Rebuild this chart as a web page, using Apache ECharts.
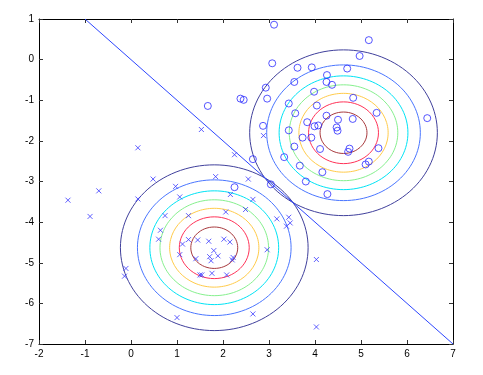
<!DOCTYPE html>
<html>
<head>
<meta charset="utf-8">
<script src="https://cdn.jsdelivr.net/npm/echarts@6/dist/echarts.min.js"></script>
<style>
html,body{margin:0;padding:0;background:#fff;}
#chart{width:483px;height:375px;}
</style>
</head>
<body>
<div id="chart"></div>
<script>
// ---- data ----
var xTicks = [-2, -1, 0, 1, 2, 3, 4, 5, 6, 7];
var yTicks = [-7, -6, -5, -4, -3, -2, -1, 0, 1];

// class "o"
var circleX = [3.11,5.17,4.97,3.07,3.62,3.93,4.70,4.26,3.55,4.25,4.37,2.93,3.98,4.83,2.96,2.38,2.45,3.43,4.04,1.67,5.34,3.57,4.25,6.44,4.82,4.50,3.83,2.87,3.99,4.07,4.47,3.43,4.49,3.73,3.92,3.55,4.75,5.38,4.11,4.72,3.33,2.65,5.17,5.10,3.67,4.16,3.80,3.04,2.25,4.27];
var circleY = [0.86,0.48,0.09,-0.09,-0.20,-0.19,-0.22,-0.38,-0.55,-0.55,-0.62,-0.69,-0.79,-0.94,-0.96,-0.96,-0.99,-1.08,-1.13,-1.14,-1.31,-1.32,-1.38,-1.44,-1.46,-1.48,-1.54,-1.63,-1.64,-1.62,-1.67,-1.74,-1.75,-1.92,-1.92,-2.14,-2.19,-2.18,-2.20,-2.27,-2.40,-2.45,-2.51,-2.58,-2.61,-2.77,-3.00,-3.07,-3.14,-3.31];

// class "x"
var crossX = [0.15,1.53,2.88,2.25,0.48,1.84,2.55,0.97,-0.70,2.16,1.06,0.15,2.65,-1.37,2.49,2.06,-0.89,0.74,1.25,3.17,3.43,3.46,3.38,0.64,0.60,1.25,1.12,1.45,1.69,2.02,2.15,1.80,1.71,1.89,1.74,1.41,1.06,2.22,2.20,2.96,4.03,-0.11,-0.14,1.50,1.54,1.76,2.08,1.00,2.65,4.03];
var crossY = [-2.17,-1.72,-1.87,-2.34,-2.94,-2.88,-2.94,-3.12,-3.23,-3.32,-3.38,-3.43,-3.44,-3.46,-3.69,-3.75,-3.86,-3.84,-3.84,-3.92,-3.88,-4.02,-4.10,-4.20,-4.42,-4.43,-4.54,-4.44,-4.47,-4.42,-4.49,-4.70,-4.85,-4.83,-4.95,-4.90,-4.80,-4.87,-4.93,-4.68,-4.92,-5.14,-5.33,-5.30,-5.30,-5.26,-5.30,-6.35,-6.26,-6.58];

// decision boundary
var boundaryX = [-1, 7];
var boundaryY = [1, -7];

// Gaussian contour centres and level radii (innermost first)
var centerX = [1.81, 4.62];
var centerY = [-4.63, -1.80];
var contourRadii = [0.51, 0.76, 0.97, 1.18, 1.40, 1.67, 2.04];
var contourColors = ['#a83a3e', '#ff3358', '#ffcb4a', '#86f08e', '#00e3f5', '#4a76ff', '#40409c'];

// ---- build options ----
function zip(a, b){ var r=[]; for (var i=0;i<a.length;i++) r.push([a[i], b[i]]); return r; }
function circlePts(cx, cy, r){
  var pts=[], n=120;
  for (var k=0;k<=n;k++){ var t=2*Math.PI*k/n; pts.push([cx + r*Math.cos(t), cy + r*Math.sin(t)]); }
  return pts;
}

var series = [];
for (var c=0;c<centerX.length;c++){
  for (var j=0;j<contourRadii.length;j++){
    series.push({
      type:'line', data: circlePts(centerX[c], centerY[c], contourRadii[j]),
      showSymbol:false, symbol:'none', smooth:false, silent:true, animation:false,
      lineStyle:{color: contourColors[j], width:1}, z:2
    });
  }
}
series.push({
  type:'line', data: zip(boundaryX, boundaryY), showSymbol:false, symbol:'none',
  lineStyle:{color:'#2d46ff', width:1}, animation:false, z:3
});
series.push({
  type:'scatter', data: zip(circleX, circleY), symbol:'circle', symbolSize:7,
  itemStyle:{color:'rgba(0,0,0,0)', borderColor:'#2a2aff', borderWidth:1}, animation:false, z:4
});
series.push({
  type:'scatter', data: zip(crossX, crossY), symbol:'path://M0,0L10,10M10,0L0,10', symbolSize:5,
  itemStyle:{color:'none', borderColor:'#3a3aff', borderWidth:1}, animation:false, z:4
});

var axisCommon = {
  type:'value', splitLine:{show:false},
  axisLine:{show:true, onZero:false, lineStyle:{color:'#000', width:1}},
  axisTick:{show:true, inside:true, length:4, lineStyle:{color:'#333', width:1}},
  axisLabel:{color:'#000', fontSize:10, fontFamily:'Liberation Sans, Arial, sans-serif', showMinLabel:true, showMaxLabel:true}
};
function ax(extra){ return Object.assign({}, JSON.parse(JSON.stringify(axisCommon)), extra); }

var option = {
  backgroundColor:'#fff',
  animation:false,
  grid:{left:39, right:30, top:19, bottom:31, containLabel:false},
  xAxis:[
    ax({position:'bottom', min:xTicks[0], max:xTicks[xTicks.length-1], interval:1,
        axisLabel:{color:'#000', fontSize:10, margin:5, fontFamily:'Liberation Sans, Arial, sans-serif', showMinLabel:true, showMaxLabel:true}}),
    ax({position:'top', min:xTicks[0], max:xTicks[xTicks.length-1], interval:1, axisLabel:{show:false}})
  ],
  yAxis:[
    ax({position:'left', min:yTicks[0], max:yTicks[yTicks.length-1], interval:1,
        axisLabel:{color:'#000', fontSize:10, margin:5, fontFamily:'Liberation Sans, Arial, sans-serif', showMinLabel:true, showMaxLabel:true}}),
    ax({position:'right', min:yTicks[0], max:yTicks[yTicks.length-1], interval:1, axisLabel:{show:false}})
  ],
  series: series
};

var chart = echarts.init(document.getElementById('chart'), null, {renderer:'canvas'});
chart.setOption(option);
</script>
</body>
</html>
